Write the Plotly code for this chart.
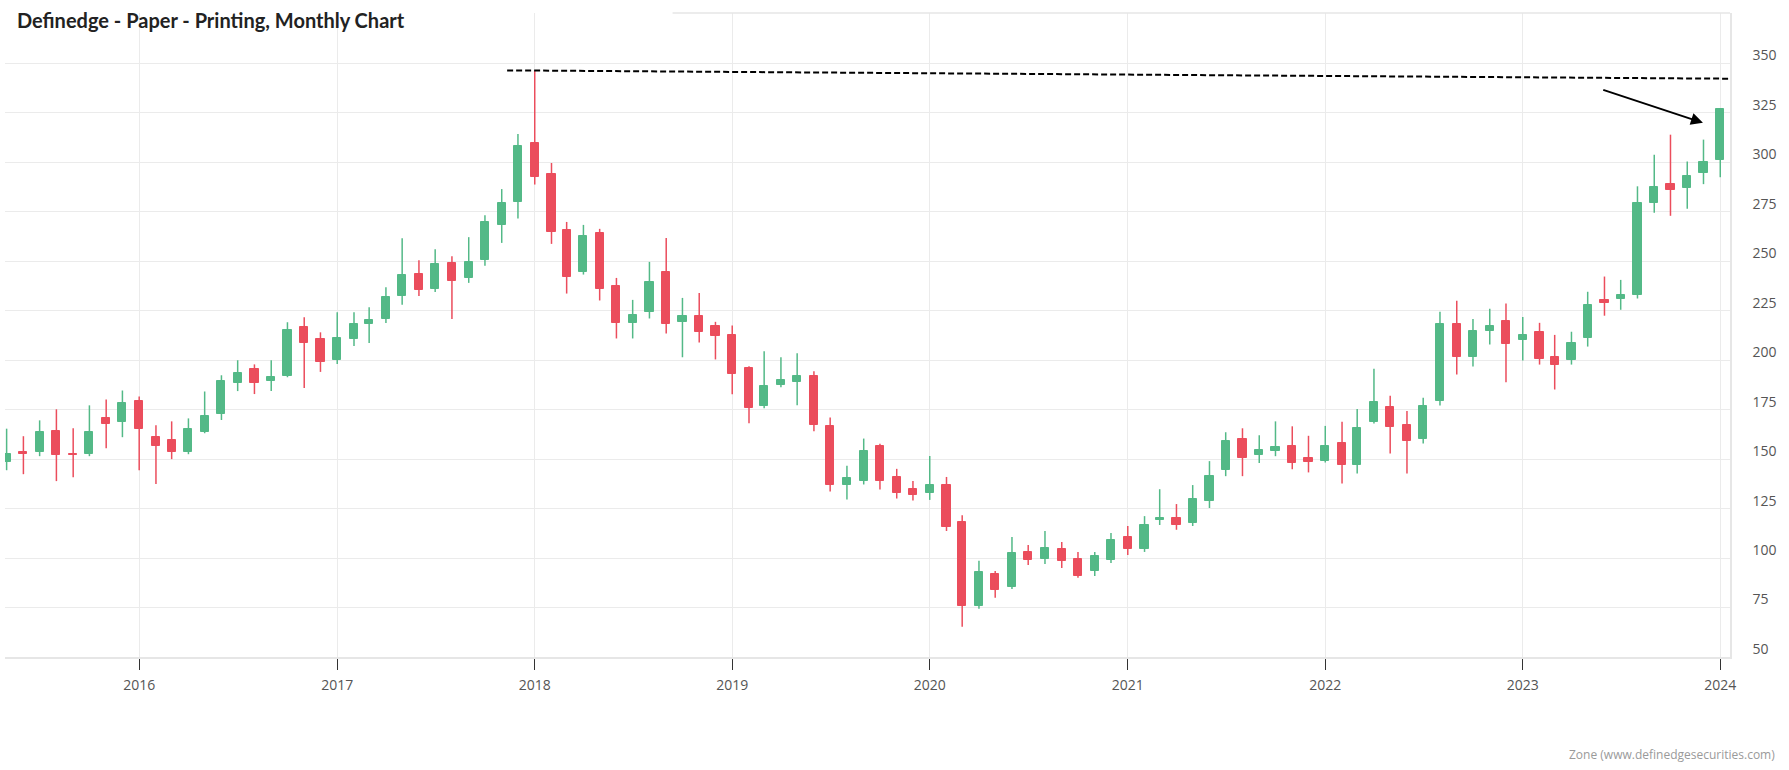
import pandas as pd
import plotly.graph_objects as go

# ---------------- data (monthly OHLC, May 2015 - Jan 2024) ----------------
months = pd.date_range("2015-05-01", "2024-01-01", freq="MS")

opens = [
    148.6, 153.7, 153.7, 164.1, 152.5, 152.5, 170.6, 168.6,
    179.2, 161.1, 159.5, 153.5, 163.6, 172.8, 188.5, 195.4, 189.5, 191.9, 216.7, 210.6,
    200.1, 210.8, 218.3, 220.9, 232.5, 243.5, 236.0, 249.0, 241.6, 250.7, 268.4, 280.2,
    309.8, 294.2, 265.9, 244.8, 264.4, 237.6, 219.0, 224.6, 244.6, 219.2, 222.4, 217.5,
    213.0, 195.9, 176.8, 187.4, 188.9, 191.8, 167.0, 136.7, 139.2, 156.8, 141.1, 135.0,
    133.0, 136.9, 118.2, 75.9, 92.0, 85.4, 103.1, 99.6, 104.6, 99.6, 93.5, 99.1,
    110.7, 104.6, 119.2, 120.2, 117.7, 128.8, 144.4, 160.0, 152.0, 154.0, 156.5, 150.7,
    149.3, 158.3, 146.8, 169.0, 176.4, 167.4, 160.4, 179.6, 218.4, 201.4, 215.0, 219.6,
    210.0, 214.4, 201.7, 199.9, 211.0, 230.4, 231.1, 232.8, 279.5, 288.9, 287.0, 294.6,
    301.1,
]
highs = [
    165.4, 161.6, 169.6, 175.2, 165.6, 177.2, 180.2, 184.7,
    181.7, 167.1, 169.1, 170.6, 184.2, 192.4, 200.0, 197.9, 200.0, 219.2, 221.7, 214.1,
    224.2, 224.2, 226.8, 236.9, 261.7, 250.5, 256.1, 252.6, 262.2, 273.3, 286.5, 314.4,
    346.4, 299.7, 269.9, 268.4, 266.4, 241.6, 230.5, 249.7, 261.8, 231.5, 234.0, 219.4,
    217.6, 196.9, 204.5, 201.5, 203.5, 194.4, 171.0, 146.7, 160.4, 157.8, 145.1, 139.0,
    151.6, 141.0, 121.7, 98.6, 93.5, 110.6, 106.6, 113.7, 108.1, 103.1, 103.1, 112.7,
    116.2, 121.2, 134.8, 127.3, 136.9, 149.0, 163.6, 165.6, 162.1, 169.1, 166.6, 161.8,
    166.8, 168.9, 175.4, 195.7, 182.0, 174.4, 181.0, 224.5, 230.0, 220.9, 226.0, 228.7,
    221.9, 218.9, 212.8, 214.4, 234.6, 242.3, 240.6, 287.9, 303.9, 314.0, 300.4, 311.5,
    327.1,
]
lows = [
    144.4, 142.4, 151.5, 138.9, 140.9, 151.5, 155.5, 161.1,
    144.4, 137.4, 150.0, 152.5, 163.1, 169.8, 184.4, 182.9, 184.4, 191.4, 186.0, 194.1,
    198.1, 207.2, 208.7, 218.8, 228.0, 232.5, 234.5, 220.9, 239.1, 247.7, 259.3, 271.6,
    288.8, 258.8, 233.7, 243.3, 230.2, 211.0, 211.0, 221.1, 213.5, 201.5, 208.9, 200.4,
    182.8, 168.1, 175.7, 186.4, 177.3, 164.1, 133.6, 129.6, 137.2, 134.6, 130.1, 129.1,
    129.4, 113.7, 65.3, 74.4, 79.9, 84.4, 96.5, 97.0, 95.0, 90.0, 91.0, 97.5,
    101.6, 103.1, 116.7, 114.3, 116.2, 125.3, 141.4, 141.4, 148.0, 151.5, 144.9, 143.3,
    148.3, 137.7, 142.8, 168.0, 152.9, 142.8, 157.9, 177.1, 192.8, 196.8, 208.0, 188.9,
    199.9, 197.8, 185.2, 197.8, 206.9, 222.5, 225.5, 231.2, 274.5, 273.0, 276.5, 289.0,
    292.5,
]
closes = [
    152.5, 152.6, 163.6, 152.0, 152.1, 163.6, 167.8, 178.2,
    165.1, 156.5, 153.5, 165.1, 171.6, 189.3, 193.4, 188.5, 191.4, 215.1, 208.7, 199.1,
    211.1, 218.2, 220.2, 231.8, 243.0, 235.5, 248.5, 240.1, 249.5, 269.8, 279.4, 308.3,
    292.8, 264.9, 242.3, 262.8, 236.2, 219.0, 222.9, 239.6, 218.5, 222.6, 214.5, 212.1,
    193.0, 175.7, 187.2, 189.8, 191.8, 167.1, 136.7, 140.6, 154.3, 139.2, 133.1, 132.1,
    136.9, 115.8, 75.9, 93.0, 83.9, 102.6, 99.1, 105.1, 98.6, 91.0, 101.1, 109.1,
    104.6, 116.7, 120.2, 116.7, 129.8, 141.4, 159.0, 150.5, 154.5, 156.0, 148.0, 148.8,
    156.7, 146.8, 165.8, 179.0, 166.0, 159.4, 177.0, 218.4, 201.4, 214.9, 217.4, 208.1,
    212.8, 200.4, 197.8, 208.8, 228.0, 229.0, 232.9, 279.3, 287.4, 285.8, 292.9, 300.4,
    327.1,
]

year_ticks = [f"{y}-01-01" for y in range(2016, 2025)]
year_labels = [str(y) for y in range(2016, 2025)]
price_ticks = list(range(50, 351, 25))

title_text = "Definedge - Paper - Printing, Monthly Chart"
credit_text = "Zone (www.definedgesecurities.com)"

# resistance line (drawn from the Jan-2018 high) and pointer arrow
res_start = ("2017-11-11", 346.5)
res_end = ("2024-01-17", 342.3)
arrow_tail = ("2023-05-27", 336.9)
arrow_head = ("2023-11-30", 320.0)

# ---------------- styling ----------------
UP = "#53b987"
DOWN = "#eb4d5c"
GRID = "#ebebeb"
FONT = "Open Sans"

df = pd.DataFrame({"d": months, "o": opens, "h": highs, "l": lows, "c": closes})
df["up"] = df["c"] >= df["o"]
df["base"] = df[["o", "c"]].min(axis=1)
df["size"] = (df["c"] - df["o"]).abs()
df["col"] = df["up"].map({True: UP, False: DOWN})

fig = go.Figure()

# wicks
for is_up, color in ((True, UP), (False, DOWN)):
    sub = df[df["up"] == is_up]
    xs, ys = [], []
    for d, lo, hi in zip(sub["d"], sub["l"], sub["h"]):
        xs += [d, d, None]
        ys += [lo, hi, None]
    fig.add_trace(go.Scatter(x=xs, y=ys, mode="lines",
                             line=dict(color=color, width=1.5),
                             hoverinfo="skip", showlegend=False))

# bodies
day_ms = 86400000
fig.add_trace(go.Bar(x=df["d"], y=df["size"], base=df["base"],
                     width=15.0 * day_ms,
                     marker=dict(color=df["col"], line=dict(color=df["col"], width=1)),
                     showlegend=False, hoverinfo="skip"))

fig.add_shape(type="line", xref="x", yref="y",
              x0=res_start[0], y0=res_start[1], x1=res_end[0], y1=res_end[1],
              line=dict(color="black", width=2, dash="6px,3px"))

# top frame segment
fig.add_shape(type="line", xref="paper", yref="paper", x0=0.387, x1=1, y0=1, y1=1,
              line=dict(color="#e6e6e6", width=1.5))

fig.add_annotation(x=arrow_head[0], y=arrow_head[1], ax=arrow_tail[0], ay=arrow_tail[1],
                   xref="x", yref="y", axref="x", ayref="y", text="",
                   showarrow=True, arrowhead=2, arrowsize=1.2, arrowwidth=2,
                   arrowcolor="black")

fig.add_annotation(text="<b>" + title_text + "</b>", xref="paper", yref="paper",
                   x=0.006, y=0.989, xanchor="left", yanchor="middle", showarrow=False,
                   font=dict(family="Lato", size=20, color="#222222"))

fig.add_annotation(text=credit_text, xref="paper", yref="paper",
                   x=1.0272, y=-0.152, xanchor="right", yanchor="middle", showarrow=False,
                   font=dict(family=FONT, size=12, color="#9a9a9a"))

fig.update_layout(
    width=1789, height=770,
    margin=dict(l=5, r=59, t=13, b=113),
    plot_bgcolor="white", paper_bgcolor="white",
    barmode="overlay", bargap=0,
    showlegend=False,
    font=dict(family=FONT, size=14, color="#555555"),
    xaxis=dict(type="date", range=["2015-04-28", "2024-01-19"],
               tickvals=year_ticks, ticktext=year_labels,
               ticks="outside", ticklen=11, tickwidth=1, tickcolor="#333333",
               showgrid=True, gridcolor=GRID, gridwidth=1,
               showline=True, linecolor="#e6e6e6", linewidth=1.5,
               tickfont=dict(family=FONT, size=14, color="#555555"),
               ticklabelstandoff=3, fixedrange=True),
    yaxis=dict(side="right", range=[50, 375.5], tickvals=price_ticks,
               showgrid=True, gridcolor=GRID, gridwidth=1, zeroline=False,
               showline=True, linecolor="#e6e6e6", linewidth=1.5,
               ticks="", ticklabelshift=-8, ticklabelstandoff=18,
               tickfont=dict(family=FONT, size=14, color="#555555"),
               fixedrange=True),
)

fig.write_html("out.html")
